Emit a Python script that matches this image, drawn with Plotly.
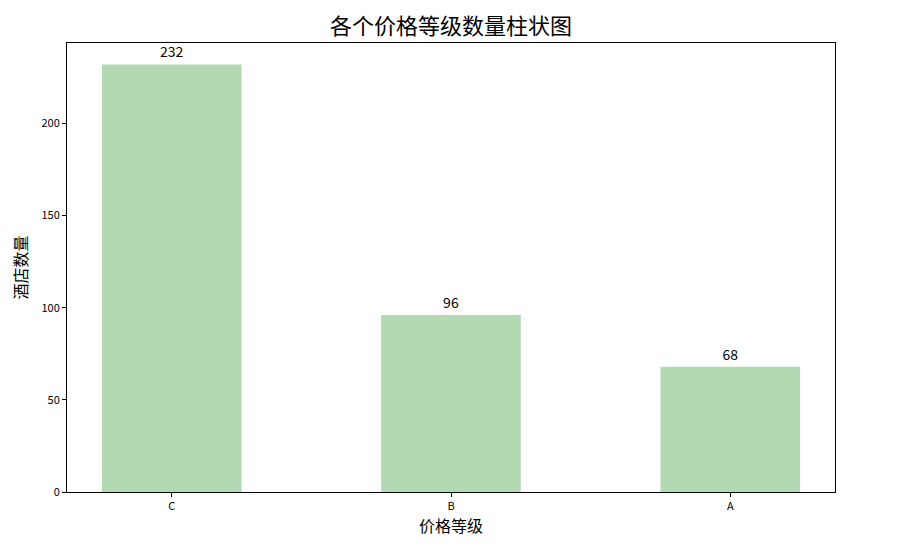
import plotly.graph_objects as go

grades = ['C', 'B', 'A']
counts = [232, 96, 68]
y_ticks = [0, 50, 100, 150, 200]

FONT = 'Noto Sans CJK SC'
W, H = 913, 552
OFF = 8  # page body margin in the browser

fig = go.Figure(
    go.Bar(
        x=[0, 1, 2],
        y=counts,
        width=0.5,
        marker=dict(color='rgba(0,128,0,0.3)', line=dict(width=0)),
        text=[str(c) for c in counts],
        textposition='outside',
        textfont=dict(family=FONT, size=14, color='black'),
        cliponaxis=False,
        showlegend=False,
    )
)

fig.update_layout(
    width=W,
    height=H,
    paper_bgcolor='white',
    plot_bgcolor='white',
    margin=dict(l=67 - OFF, r=W - 835 + OFF, t=43 - OFF, b=H - 492 + OFF),
    title=dict(
        text='各个价格等级数量柱状图',
        font=dict(family=FONT, size=22, color='black'),
        x=(451 - OFF) / W,
        xanchor='center',
        y=1 - (26 - OFF) / H,
        yanchor='middle',
    ),
    xaxis=dict(
        range=[-0.375, 2.375],
        tickvals=[0, 1, 2],
        ticktext=grades,
        ticks='outside',
        ticklen=4,
        tickcolor='black',
        tickfont=dict(family=FONT, size=11, color='black'),
        showgrid=False,
        zeroline=False,
        showline=True,
        linecolor='black',
        linewidth=1,
        mirror=True,
        title=dict(text='价格等级', font=dict(family=FONT, size=16, color='black'), standoff=6),
    ),
    yaxis=dict(
        range=[0, 243.6],
        tickvals=y_ticks,
        ticks='outside',
        ticklen=4,
        tickcolor='black',
        tickfont=dict(family=FONT, size=11, color='black'),
        showgrid=False,
        zeroline=False,
        showline=True,
        linecolor='black',
        linewidth=1,
        mirror=True,
        title=dict(text='酒店数量', font=dict(family=FONT, size=16, color='black'), standoff=10),
    ),
)

fig.write_html('out.html')
